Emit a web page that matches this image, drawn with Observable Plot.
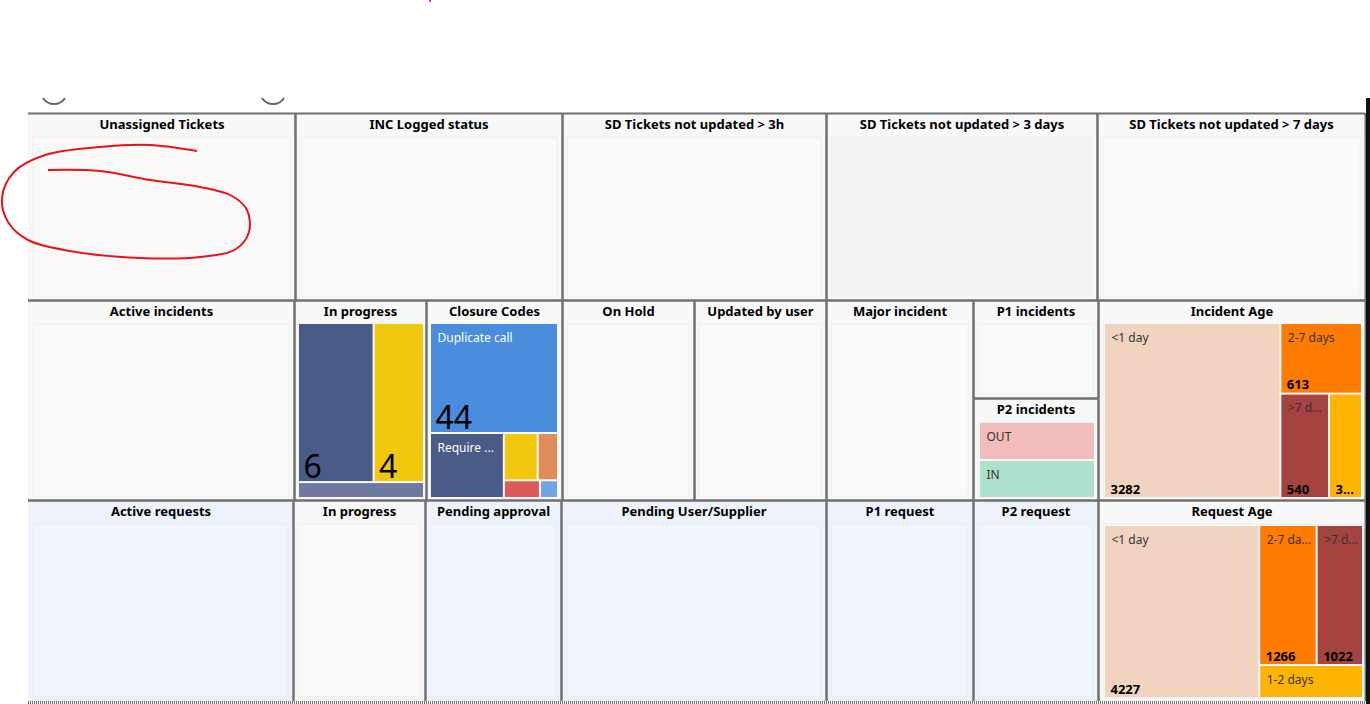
<!DOCTYPE html>
<html><head><meta charset="utf-8">
<script src="https://cdn.jsdelivr.net/npm/d3@7"></script>
<script src="https://cdn.jsdelivr.net/npm/@observablehq/plot@0.6"></script>
<style>
html,body{margin:0;padding:0;background:#fff;overflow:hidden}
#chart svg{display:block}
</style></head><body><div id="chart"></div>
<script>
// ---------- DATA ----------
const row1Titles = ["Unassigned Tickets","INC Logged status","SD Tickets not updated > 3h","SD Tickets not updated > 3 days","SD Tickets not updated > 7 days"];
const row2Titles = ["Active incidents","In progress","Closure Codes","On Hold","Updated by user","Major incident","P1 incidents","P2 incidents","Incident Age"];
const row3Titles = ["Active requests","In progress","Pending approval","Pending User/Supplier","P1 request","P2 request","Request Age"];

const inProgressCats = ["Group A","Group B","Group C"];
const inProgressValues = [6,4,1];
const inProgressColors = ["#4B5B88","#F2C80F","#6E799F"];

const closureCats = ["Duplicate call","Require approval","Code 3","Code 4","Code 5","Code 6"];
const closureValues = [44,15,5,3,2,1];
const closureColors = ["#4A8DDC","#4B5B88","#F2C80F","#DE8C5A","#DD5A5A","#6FA4E5"];

const p2Cats = ["OUT","IN"];
const p2Values = [1,1];
const p2Colors = ["#F0BCBC","#ADE1CD"];

const incAgeCats = ["<1 day","2-7 days",">7 days","1-2 days"];
const incAgeValues = [3282,613,540,366];
const reqAgeCats = ["<1 day","2-7 days",">7 days","1-2 days"];
const reqAgeValues = [4227,1266,1022,539];
const ageColors = {"<1 day":"#F2D3BF","2-7 days":"#FF7B00",">7 days":"#A54340","1-2 days":"#FFB400"};

// ---------- LAYOUT ----------
const W = 1370, H = 704;
const FONT = "'Segoe UI','Noto Sans','Open Sans',sans-serif";
const LEFT = 28;
const rows = [
  {y0:113, y1:300, xs:[28,295,562,826,1097,1365], titles:row1Titles},
  {y0:300, y1:500, xs:[28,294,426,562,694,826,973,1098,1365], titles:row2Titles},
  {y0:500, y1:701, xs:[28,293,425,561,826,973,1098,1365], titles:row3Titles}
];
const panels = [];
rows.forEach((r, ri) => {
  let col = 0;
  r.titles.forEach((t, i) => {
    let x0 = r.xs[col], x1 = r.xs[col+1], y0 = r.y0, y1 = r.y1;
    if (ri === 1 && t === "P1 incidents") { y1 = 398; }
    else if (ri === 1 && t === "P2 incidents") { col--; x0 = r.xs[col]; x1 = r.xs[col+1]; y0 = 398; }
    col++;
    let fill = "#f8f8f8", inner = "#f9f9f9", innerStroke = "#eeeeee";
    if (ri === 0 && i === 3) inner = "#f2f2f2";
    if (ri === 2 && t !== "Request Age" && i !== 1) { fill = "#eef3fb"; inner = "#f0f5fc"; innerStroke = "#e4ebf5"; }
    if (ri === 2 && i === 1) { fill = "#f7f7f7"; }
    panels.push({title:t, row:ri, idx:i, x0, x1, y0, y1, fill, inner, innerStroke});
  });
});
const P = (row, title) => panels.find(p => p.row === row && p.title === title);

function tiles(cats, values, colors, box, tile) {
  const root = d3.hierarchy({children: cats.map((c,i) => ({name:c, value:values[i], color: Array.isArray(colors) ? colors[i] : colors[c]}))})
    .sum(d => d.value || 0);
  d3.treemap().tile(tile || d3.treemapSquarify).size([box.x1 - box.x0, box.y1 - box.y0]).paddingInner(2).round(false)(root);
  return root.leaves().map(l => ({name:l.data.name, value:l.data.value, fill:l.data.color,
    x0:box.x0 + l.x0, x1:box.x0 + l.x1, y0:box.y0 + l.y0, y1:box.y0 + l.y1}));
}
const pIP = P(1,"In progress"), pCC = P(1,"Closure Codes"), pP2 = P(1,"P2 incidents"), pIA = P(1,"Incident Age"), pRA = P(2,"Request Age");
const tIP = tiles(inProgressCats, inProgressValues, inProgressColors, {x0:pIP.x0+5, x1:pIP.x1-3, y0:pIP.y0+24, y1:pIP.y1-3});
const tCC = tiles(closureCats, closureValues, closureColors, {x0:pCC.x0+5, x1:pCC.x1-5, y0:pCC.y0+24, y1:pCC.y1-3});
const tP2 = tiles(p2Cats, p2Values, p2Colors, {x0:pP2.x0+7, x1:pP2.x1-4, y0:pP2.y0+25, y1:pP2.y1-3}, d3.treemapSlice);
const tIA = tiles(incAgeCats, incAgeValues, ageColors, {x0:pIA.x0+7, x1:pIA.x1-4, y0:pIA.y0+24, y1:pIA.y1-3});
const tRA = tiles(reqAgeCats, reqAgeValues, ageColors, {x0:pRA.x0+7, x1:pRA.x1-3, y0:pRA.y0+26, y1:pRA.y1-4});
const allTiles = [...tIP, ...tCC, ...tP2, ...tIA, ...tRA];

// text fitting
const ctx = document.createElement("canvas").getContext("2d");
function fit(text, font, maxW) {
  ctx.font = font;
  if (ctx.measureText(text).width <= maxW) return text;
  let s = text;
  while (s.length > 1 && ctx.measureText(s + "...").width > maxW) s = s.slice(0, -1);
  return s + "...";
}
const catFont = "12px " + FONT, valFont = "bold 13px " + FONT;
const catLabels = [];
const valLabels = [];
const bigLabels = [];
for (const t of [...tCC]) {
  const w = t.x1 - t.x0, h = t.y1 - t.y0;
  if (w > 50 && h > 30) catLabels.push({...t, text: fit(t.name, catFont, w - 10), color:"#ffffff"});
  if (h > 80) bigLabels.push({...t, text: String(t.value)});
}
for (const t of tIP) { if (t.y1 - t.y0 > 80) bigLabels.push({...t, text: String(t.value)}); }
for (const t of tP2) catLabels.push({...t, text: t.name, color:"#333333"});
for (const t of [...tIA, ...tRA]) {
  const w = t.x1 - t.x0, h = t.y1 - t.y0;
  if (w > 40) catLabels.push({...t, text: fit(t.name, catFont, w - 10), color:"#333333"});
  if (h > 40) valLabels.push({...t, text: fit(String(t.value), valFont, w - 10)});
}

// border rules
const hLines = [], vLines = [];
for (const p of panels) {
  hLines.push({y:p.y0, x0:p.x0, x1:p.x1});
  if (p.row < 2) hLines.push({y:p.y1, x0:p.x0, x1:p.x1});
  vLines.push({x:p.x1, y0:p.y0, y1:p.y1});
  if (p.x0 > LEFT) vLines.push({x:p.x0, y0:p.y0, y1:p.y1});
}
const bottomLine = [{y:702, x0:LEFT, x1:1365}];

const chart = Plot.plot({
  width: W, height: H, margin: 0,
  x: {type: "identity", axis: null},
  y: {type: "identity", axis: null},
  color: {type: "identity"},
  style: {background: "#ffffff", fontFamily: FONT},
  marks: [
    Plot.rect(panels, {x1:"x0", x2:"x1", y1:"y0", y2:"y1", fill:"fill"}),
    Plot.rect(panels, {x1:d => d.x0 + 5, x2:d => d.x1 - 5, y1:d => d.y0 + 24, y2:d => d.y1 - 4, fill:"inner", stroke:"innerStroke", strokeWidth:1}),
    Plot.rect(allTiles, {x1:"x0", x2:"x1", y1:"y0", y2:"y1", fill:"fill"}),
    Plot.ruleY(hLines, {y:"y", x1:"x0", x2:"x1", stroke:"#707070", strokeWidth:2}),
    Plot.ruleX(vLines, {x:"x", y1:"y0", y2:"y1", stroke:"#707070", strokeWidth:2}),
    Plot.ruleY(bottomLine, {y:"y", x1:"x0", x2:"x1", stroke:"#707070", strokeWidth:3, strokeDasharray:"1,1"}),
    Plot.text(panels, {x:d => (d.x0 + d.x1) / 2, y:d => d.y0 + 11, text:"title", fontWeight:"bold", fontSize:13, fill:"#000"}),
    Plot.text(catLabels, {x:d => d.x0 + 6, y:d => d.y0 + 17, text:"text", textAnchor:"start", lineAnchor:"bottom", fontSize:12, fill:"color"}),
    Plot.text(valLabels, {x:d => d.x0 + 5, y:d => d.y1 - 4, text:"text", textAnchor:"start", lineAnchor:"bottom", fontSize:13, fontWeight:"bold", fill:"#000"}),
    Plot.text(bigLabels, {x:d => d.x0 + 4, y:d => d.y1 - 4, text:"text", textAnchor:"start", lineAnchor:"bottom", fontSize:32, fill:"#000"})
  ]
});
document.getElementById("chart").appendChild(chart);

// ---------- overlay annotations (hand drawn marks on the screenshot) ----------
const svg = d3.select(chart);
svg.append("rect").attr("x", 1366).attr("y", 98).attr("width", 4).attr("height", H - 98).attr("fill", "#111");
svg.append("path").attr("d", "M43,98 A13,13 0 0 0 65,98").attr("fill", "none").attr("stroke", "#666").attr("stroke-width", 2);
svg.append("path").attr("d", "M262,98 A13,13 0 0 0 284,98").attr("fill", "none").attr("stroke", "#666").attr("stroke-width", 2);
svg.append("circle").attr("cx", 430).attr("cy", 1).attr("r", 1).attr("fill", "#e00");
const scribble = [[197,151],[150,145],[100,147],[45,155],[14,172],[2,198],[8,222],[28,240],[70,251],[140,258],[200,257],[236,249],[249,232],[247,210],[232,196],[200,187],[150,180],[100,171],[48,170]];
svg.append("path").attr("d", d3.line().curve(d3.curveCatmullRom)(scribble))
  .attr("fill", "none").attr("stroke", "#e8141b").attr("stroke-width", 2);
</script>
</body></html>
